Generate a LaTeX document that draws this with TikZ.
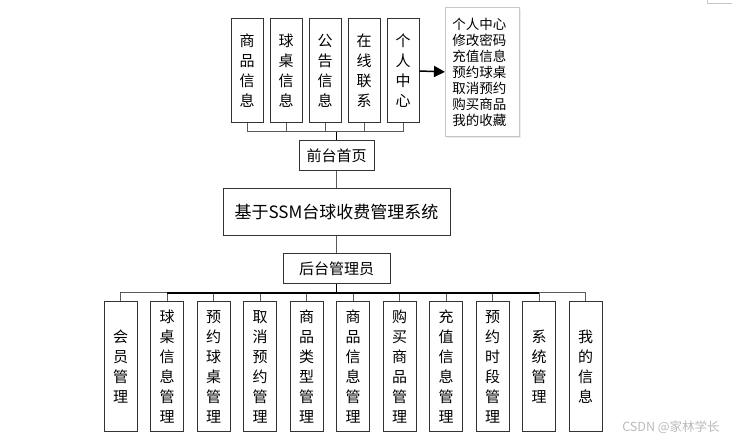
\documentclass[tikz,border=0pt]{standalone}
\usepackage{fontspec}
\setmainfont{Noto Sans CJK SC}
\usetikzlibrary{arrows.meta,shadows}
\begin{document}
\begin{tikzpicture}[x=1pt,y=-1pt]
  \tikzstyle{box}=[draw=black!80, line width=1pt, inner sep=0pt, fill=white, align=center, font=\fontsize{15}{20}\selectfont]
  \tikzstyle{upbox}=[box, minimum width=32pt, minimum height=104pt]
  \tikzstyle{lowbox}=[box, minimum width=33pt, minimum height=129pt]
  \tikzstyle{wire}=[draw=black!65, line width=1pt]
  \tikzstyle{trunk}=[draw=black, line width=1.6pt]
  \tikzstyle{infobox}=[draw=gray!45, line width=0.8pt, fill=white, align=left, inner xsep=7pt, inner ysep=0pt,
    text width=60pt, minimum height=129pt, font=\fontsize{13.5}{16}\selectfont,
    drop shadow={opacity=0.15, shadow xshift=2pt, shadow yshift=-2pt}]

  \useasboundingbox (0,0) rectangle (732,441);

  \node[upbox] (u1) at (247,71) {商\\品\\信\\息};
  \node[upbox] (u2) at (286,71) {球\\桌\\信\\息};
  \node[upbox] (u3) at (325,71) {公\\告\\信\\息};
  \node[upbox] (u4) at (364,71) {在\\线\\联\\系};
  \node[upbox] (u5) at (403,71) {个\\人\\中\\心};

  \node[infobox, anchor=north west] (info) at (445,7) {个人中心\\修改密码\\充值信息\\预约球桌\\取消预约\\购买商品\\我的收藏};

  \node[box, minimum width=75pt, minimum height=30pt] (home) at (336.5,156) {前台首页};
  \node[box, minimum width=227pt, minimum height=47pt, font=\fontsize{17}{20}\selectfont] (sys) at (336.5,212.5) {基于SSM台球收费管理系统};
  \node[box, minimum width=107pt, minimum height=30pt] (admin) at (336.5,269) {后台管理员};

  \node[lowbox] (l1)  at (120.5,366.5) {会\\员\\管\\理};
  \node[lowbox] (l2)  at (167,366.5)   {球\\桌\\信\\息\\管\\理};
  \node[lowbox] (l3)  at (213.5,366.5) {预\\约\\球\\桌\\管\\理};
  \node[lowbox] (l4)  at (260,366.5)   {取\\消\\预\\约\\管\\理};
  \node[lowbox] (l5)  at (306.5,366.5) {商\\品\\类\\型\\管\\理};
  \node[lowbox] (l6)  at (353,366.5)   {商\\品\\信\\息\\管\\理};
  \node[lowbox] (l7)  at (399.5,366.5) {购\\买\\商\\品\\管\\理};
  \node[lowbox] (l8)  at (446,366.5)   {充\\值\\信\\息\\管\\理};
  \node[lowbox] (l9)  at (492.5,366.5) {预\\约\\时\\段\\管\\理};
  \node[lowbox] (l10) at (539,366.5)   {系\\统\\管\\理};
  \node[lowbox] (l11) at (585.5,366.5) {我\\的\\信\\息};

  \coordinate (top) at (336.5,132);
  \coordinate (low) at (336.5,293);

  \path[wire] (top) -| (u1.south);
  \path[wire] (top) -| (u2.south);
  \path[wire] (top) -| (u3.south);
  \path[wire] (top) -| (u4.south);
  \path[wire] (top) -| (u5.south);
  \path[trunk] (top) -- (home.north);
  \path[wire] (home.south) -- (sys.north);
  \path[wire] (sys.south) -- (admin.north);
  \path[trunk] (admin.south) -- (low);

  \path[wire] (low) -| (l1.north);
  \path[wire] (low) -| (l2.north);
  \path[wire] (low) -| (l3.north);
  \path[wire] (low) -| (l4.north);
  \path[wire] (low) -| (l5.north);
  \path[wire] (low) -| (l6.north);
  \path[wire] (low) -| (l7.north);
  \path[wire] (low) -| (l8.north);
  \path[wire] (low) -| (l9.north);
  \path[wire] (low) -| (l10.north);
  \path[wire] (low) -| (l11.north);
  \path[trunk] (l2.north |- low) -- (l10.north |- low);

  \draw[line width=1.5pt, -{Triangle[length=11pt,width=11pt]}] (u5.east) -- (info.west);

  \node[text=gray!55, font=\fontsize{12.5}{14}\selectfont] (mark) at (671,427) {CSDN @家林学长};
  \draw[gray!45, line width=0.8pt] (707,0) -- (707,3) -- (732,3);

\end{tikzpicture}
\end{document}
